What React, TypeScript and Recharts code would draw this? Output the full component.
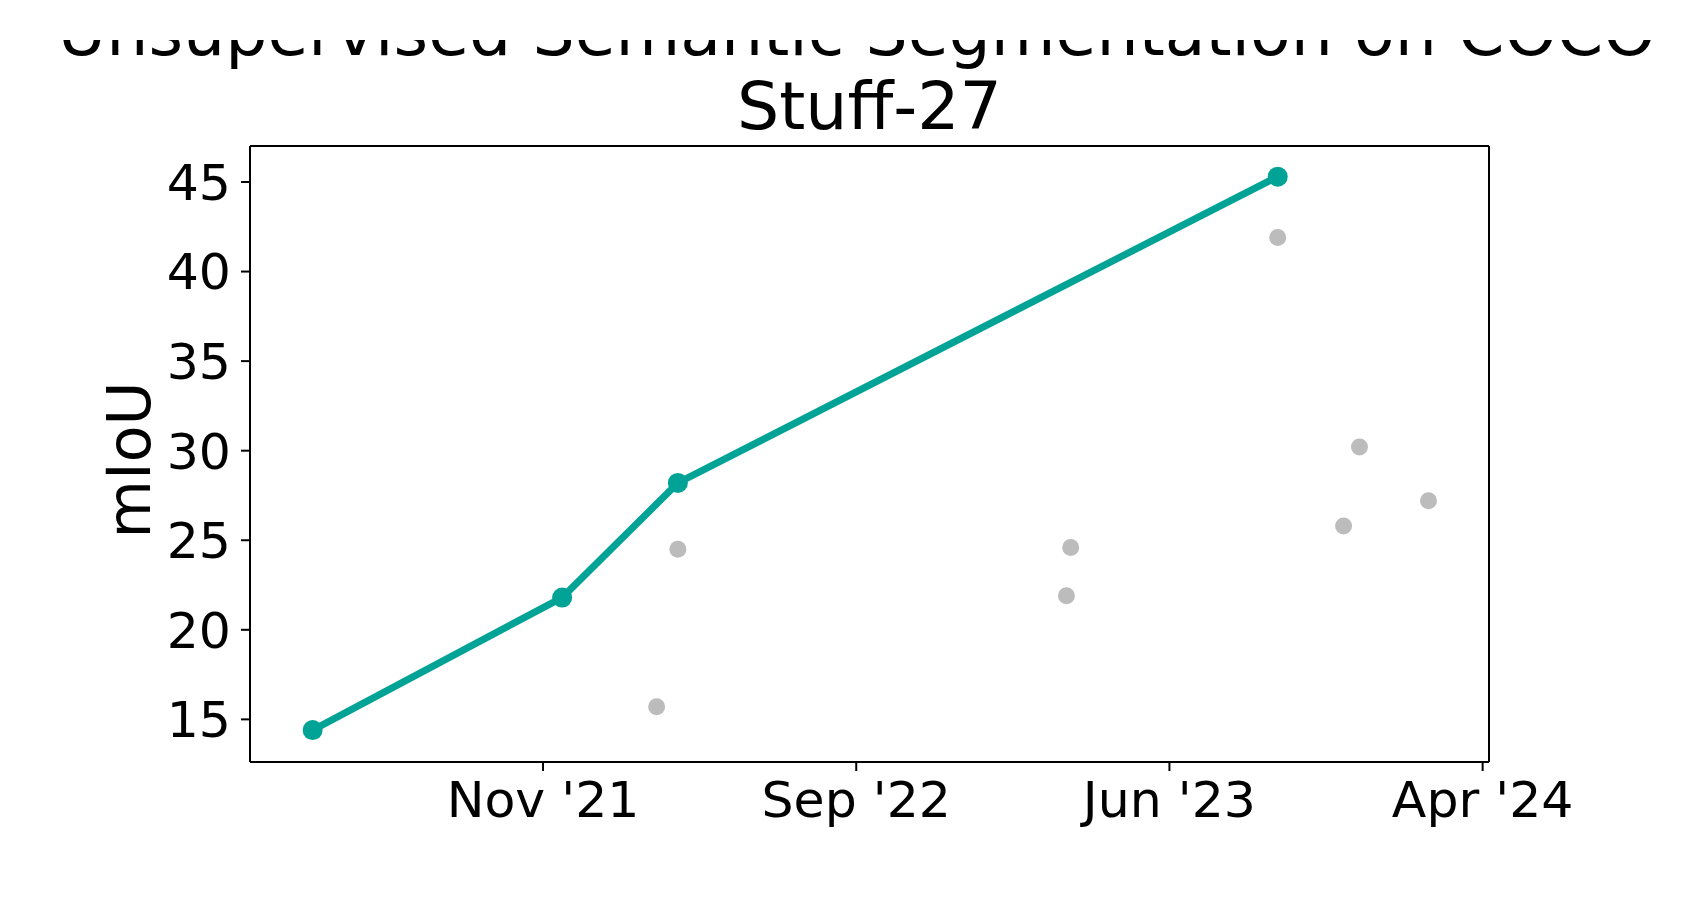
import React from 'react';
import { ComposedChart, Line, Scatter, XAxis, YAxis, ReferenceLine } from 'recharts';

// ---- data ----
const bestDates = ['2021-04-12', '2021-12-03', '2022-03-22', '2023-10-08'];
const bestValues = [14.4, 21.8, 28.2, 45.3];

const otherDates = ['2022-03-02', '2022-03-22', '2023-03-23', '2023-03-27', '2023-10-08', '2023-12-09', '2023-12-24', '2024-02-27'];
const otherValues = [15.7, 24.5, 21.9, 24.6, 41.9, 25.8, 30.2, 27.2];

const xTickDates = ['2021-11-15', '2022-09-06', '2023-06-28', '2024-04-18'];
const xDomainDates = ['2021-02-12', '2024-04-24'];
const yTicks = [15, 20, 25, 30, 35, 40, 45];
const yDomain = [12.62, 47.01];

const titleLines = ['Unsupervised Semantic Segmentation on COCO-', 'Stuff-27'];
const yLabel = 'mIoU';

const MONTHS = ['Jan', 'Feb', 'Mar', 'Apr', 'May', 'Jun', 'Jul', 'Aug', 'Sep', 'Oct', 'Nov', 'Dec'];

const toDay = (s: string) => {
  const [y, m, d] = s.split('-').map(Number);
  return Date.UTC(y, m - 1, d) / 86400000;
};
const fmtDay = (v: number) => {
  const dt = new Date(v * 86400000);
  return `${MONTHS[dt.getUTCMonth()]} '${String(dt.getUTCFullYear()).slice(2)}`;
};

const bestData = bestDates.map((d, i) => ({ x: toDay(d), y: bestValues[i] }));
const otherData = otherDates.map((d, i) => ({ x: toDay(d), y: otherValues[i] }));
const xTicks = xTickDates.map(toDay);
const xDomain = xDomainDates.map(toDay);

const FONT = 'DejaVu Sans, sans-serif';
const TEAL = '#00a395';
const GRAY = '#bcbcbc';

const W = 1700;
const H = 900;
const PLOT_LEFT = 250;
const PLOT_RIGHT = 1489;
const PLOT_TOP = 146;
const PLOT_BOTTOM = 762;
const TICK_FONT = 50.5;

const GrayDot = (props: any) => {
  const { cx, cy } = props;
  if (cx == null || cy == null) return null;
  return <circle cx={cx} cy={cy} r={8.5} fill={GRAY} />;
};

export default function App() {
  const xAxisH = 80;
  const labelX = 150;
  const labelY = 460;
  return (
    <div style={{ position: 'absolute', left: 0, top: 0, width: W, height: H, background: '#fff' }}>
      <ComposedChart
        width={W}
        height={H}
        margin={{ top: PLOT_TOP, right: W - PLOT_RIGHT, bottom: H - PLOT_BOTTOM - xAxisH, left: 0 }}
      >
        <XAxis
          type="number"
          dataKey="x"
          domain={xDomain}
          ticks={xTicks}
          allowDataOverflow
          tickFormatter={fmtDay}
          height={xAxisH}
          tickSize={9}
          tickMargin={10}
          axisLine={{ stroke: '#000', strokeWidth: 2 }}
          tickLine={{ stroke: '#000', strokeWidth: 2 }}
          tick={{ fill: '#000', fontSize: TICK_FONT, fontFamily: FONT }}
          interval={0}
        />
        <YAxis
          type="number"
          dataKey="y"
          domain={yDomain}
          ticks={yTicks}
          allowDataOverflow
          width={PLOT_LEFT}
          tickSize={9}
          tickMargin={10}
          axisLine={{ stroke: '#000', strokeWidth: 2 }}
          tickLine={{ stroke: '#000', strokeWidth: 2 }}
          tick={{ fill: '#000', fontSize: TICK_FONT, fontFamily: FONT }}
          interval={0}
        />
        <ReferenceLine y={yDomain[1]} stroke="#000" strokeWidth={2} />
        <ReferenceLine x={xDomain[1]} stroke="#000" strokeWidth={2} />
        <Scatter data={otherData} dataKey="y" shape={<GrayDot />} isAnimationActive={false} />
        <Line
          data={bestData}
          dataKey="y"
          type="linear"
          stroke={TEAL}
          strokeWidth={7}
          dot={{ r: 10, fill: TEAL, stroke: 'none' }}
          activeDot={false}
          isAnimationActive={false}
        />
      </ComposedChart>
      <svg
        width={W}
        height={H}
        style={{ position: 'absolute', left: 0, top: 0, pointerEvents: 'none' }}
      >
        <defs>
          <clipPath id="titleClip">
            <rect x={0} y={40} width={W} height={H} />
          </clipPath>
        </defs>
        <g clipPath="url(#titleClip)" fontFamily={FONT} fontSize={66.5} fill="#000" textAnchor="middle">
          <text x={(PLOT_LEFT + PLOT_RIGHT) / 2} y={55}>{titleLines[0]}</text>
          <text x={(PLOT_LEFT + PLOT_RIGHT) / 2} y={129}>{titleLines[1]}</text>
        </g>
        <text
          x={labelX}
          y={labelY}
          transform={`rotate(-90, ${labelX}, ${labelY})`}
          textAnchor="middle"
          fontFamily={FONT}
          fontSize={60}
          fill="#000"
        >
          {yLabel}
        </text>
      </svg>
    </div>
  );
}
